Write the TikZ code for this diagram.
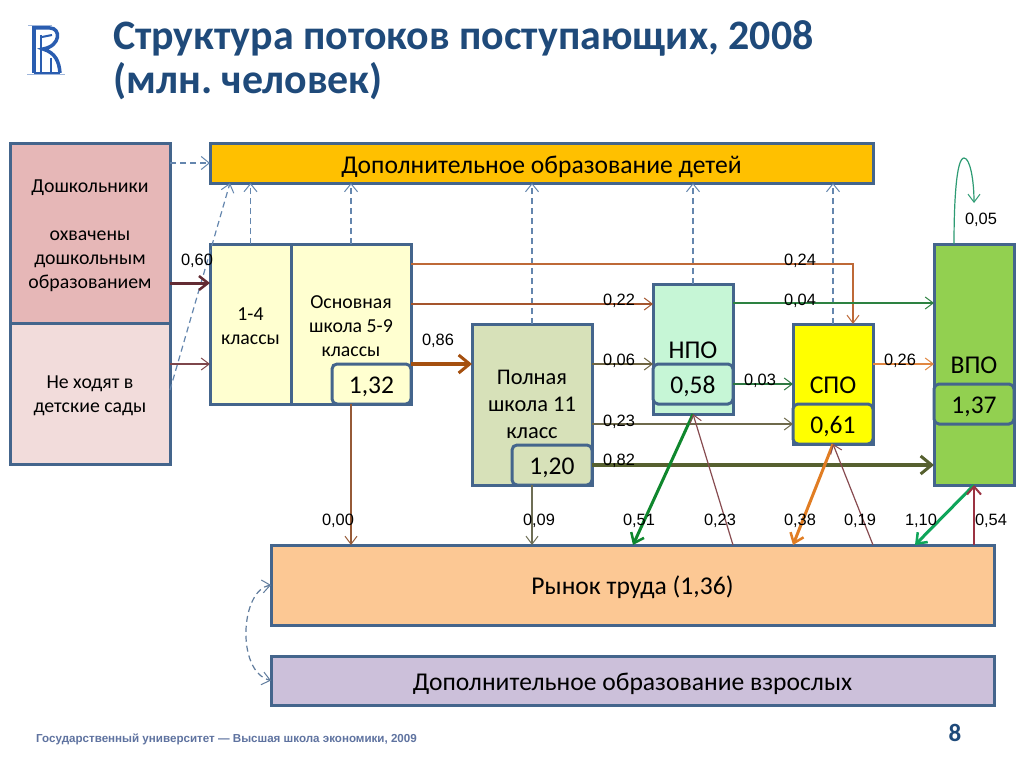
\documentclass[tikz,border=0pt]{standalone}
\usepackage{fontspec}
\setmainfont{Carlito}
\newfontfamily\numfont{Liberation Sans}
\usetikzlibrary{arrows.meta,calc}
\definecolor{frame}{HTML}{44658C}
\definecolor{dashblue}{HTML}{6486AE}
\definecolor{titleblue}{HTML}{1F4A7A}
\definecolor{logoblue}{HTML}{2A5DB0}
\frenchspacing
\newcommand\stru[1]{\rule{0pt}{#1pt}}
\tikzset{
 box/.style={draw=frame,line width=3pt,outer sep=0pt,anchor=north west,inner sep=0pt,align=center,text=black},
 val/.style={draw=frame,line width=3pt,outer sep=0pt,rounded corners=5pt,anchor=north west,inner sep=0pt,align=center,font=\fontsize{25.5}{28}\selectfont},
 body/.style={font=\fontsize{19.8}{24}\selectfont},
 big/.style={font=\fontsize{25.6}{28}\selectfont},
 num/.style={font=\numfont\fontsize{16.4}{18}\selectfont,text=black,inner sep=0pt},
 flow/.style={-{Straight Barb[length=8pt,width=12pt,line width=1pt]},line width=1.2pt},
 bigflow/.style={-{Straight Barb[length=11pt,width=18pt,line width=3pt]},line width=4pt},
 midflow/.style={-{Straight Barb[length=9pt,width=14pt,line width=2.5pt]},line width=3pt},
 dashflow/.style={-{Straight Barb[length=8pt,width=13pt,line width=1pt]},draw=dashblue,line width=1.2pt,dash pattern=on 6pt off 4pt},
 dashboth/.style={{Straight Barb[length=8pt,width=13pt,line width=1pt]}-{Straight Barb[length=8pt,width=13pt,line width=1pt]},draw=frame!85,line width=1.2pt,dash pattern=on 6pt off 4pt},
}
\begin{document}
\begin{tikzpicture}[x=1pt,y=-1pt]
\useasboundingbox (0,0) rectangle (1024,768);
\fill[white] (0,0) rectangle (1024,768);
% logo
\begin{scope}[draw=logoblue,line cap=butt]
\draw[draw=logoblue!45,line width=1.6pt] (28,25.5) -- (52,25.5) (27,74.5) -- (65,74.5);
\draw[line width=4pt] (34,26) -- (34,73);
\draw[line width=2pt] (41,35) -- (41,73);
\draw[line width=3.5pt] (33,28) -- (50,28) .. controls (61,28) and (61,46) .. (43,49) .. controls (56,53) and (59,62) .. (60,73);
\draw[line width=2pt] (42,37) -- (52,35);
\draw[line width=2pt] (51,58) -- (51,73);
\draw[line width=2pt] (34,72.5) -- (60,72.5);
\end{scope}
% title
\node[anchor=west,inner sep=0pt,text=titleblue,font=\fontsize{41.9}{44}\selectfont\bfseries] (title1) at (113,38.5) {Структура потоков поступающих, 2008};
\node[anchor=west,inner sep=0pt,text=titleblue,font=\fontsize{41.9}{44}\selectfont\bfseries] (title2) at (113,81) {(млн. человек)};
% boxes
\node[box,body,minimum width=160pt,minimum height=180pt,fill={rgb,255:red,230;green,183;blue,183}] (pre) at (10,143) {\stru{18}Дошкольники\\ \\охвачены\\дошкольным\\образованием};
\node[box,body,minimum width=160pt,minimum height=141pt,fill={rgb,255:red,242;green,220;blue,219}] (non) at (10,323) {\stru{18}Не ходят в\\детские сады};
\node[box,big,minimum width=663pt,minimum height=40pt,fill={rgb,255:red,255;green,192;blue,0}] (extra) at (210,143) {\stru{25}Дополнительное образование детей};
\node[box,body,minimum width=81pt,minimum height=160pt,fill={rgb,255:red,255;green,255;blue,208}] (prim) at (210,244) {\stru{18}1-4\\классы};
\node[box,body,minimum width=120pt,minimum height=160pt,fill={rgb,255:red,255;green,255;blue,208}] (school) at (291,244) {\stru{17}Основная\\школа 5-9\\классы};
\node[val,minimum width=79pt,minimum height=40pt,fill={rgb,255:red,255;green,255;blue,208}] (v132) at (332,364) {\stru{23}1,32};
\node[box,minimum width=120pt,minimum height=161pt,fill={rgb,255:red,215;green,225;blue,185},font=\fontsize{22.4}{27}\selectfont] (full) at (472,324) {\stru{15}Полная\\школа 11\\класс};
\node[val,minimum width=80pt,minimum height=40pt,fill={rgb,255:red,215;green,225;blue,185}] (v120) at (512,445) {\stru{23}1,20};
\node[box,minimum width=80pt,minimum height=130pt,fill={rgb,255:red,198;green,246;blue,214}] (npo) at (653,284) {};
\node[anchor=center,inner sep=0pt,big] (npot) at (693,350) {НПО};
\node[val,minimum width=80pt,minimum height=40pt,fill={rgb,255:red,198;green,246;blue,214}] (v058) at (653,364) {\stru{23}0,58};
\node[box,minimum width=80pt,minimum height=120pt,fill={rgb,255:red,255;green,255;blue,0}] (spo) at (793,324) {};
\node[anchor=center,inner sep=0pt,big] (spot) at (833,385.5) {СПО};
\node[val,minimum width=80pt,minimum height=40pt,fill={rgb,255:red,255;green,255;blue,0}] (v061) at (793,404) {\stru{23}0,61};
\node[box,minimum width=80pt,minimum height=241pt,fill={rgb,255:red,146;green,208;blue,80}] (vpo) at (934,244) {};
\node[anchor=center,inner sep=0pt,big] (vpot) at (974,365) {ВПО};
\node[val,minimum width=80pt,minimum height=40pt,fill={rgb,255:red,146;green,208;blue,80}] (v137) at (934,384) {\stru{22}1,37};
\node[box,big,minimum width=723pt,minimum height=80pt,fill={rgb,255:red,252;green,200;blue,148}] (market) at (271,545) {\stru{24}Рынок труда (1,36)};
\node[box,big,minimum width=723pt,minimum height=49pt,fill={rgb,255:red,204;green,192;blue,218}] (adult) at (271,656) {\stru{24}Дополнительное образование взрослых};
% dashed to extra
\draw[dashflow] (pre.east |- 0,163) -- (extra.west |- 0,163);
\draw[dashflow] (non.east |- 0,390) -- (extra.south west -| 230,0);
\draw[dashflow] (prim.north) -- (extra.south -| prim.north);
\draw[dashflow] (school.north) -- (extra.south -| school.north);
\draw[dashflow] (full.north) -- (extra.south -| full.north);
\draw[dashflow] (npo.north) -- (extra.south -| npo.north);
\draw[dashflow] (spo.north) -- (extra.south -| spo.north);
\draw[dashboth] (market.west) .. controls (240,590) and (236,672) .. (adult.west);
% flows
\draw[midflow,draw={rgb,255:red,99;green,43;blue,51}] (pre.east |- 0,283) -- (prim.west |- 0,283);
\draw[flow,draw={rgb,255:red,125;green,70;blue,75}] (non.east |- 0,364) -- (prim.west |- 0,364);
\draw[flow,draw={rgb,255:red,190;green,105;blue,55}] (school.east |- 0,264) -| (spo.north -| 853,0);
\draw[flow,draw={rgb,255:red,165;green,85;blue,45}] (school.east |- 0,304) -- (npo.west |- 0,304);
\draw[bigflow,draw={rgb,255:red,165;green,80;blue,15}] (school.east |- 0,364) -- (full.west |- 0,364);
\draw[flow,draw={rgb,255:red,110;green,100;blue,65}] (full.east |- 0,364) -- (npo.west |- 0,364);
\draw[flow,draw={rgb,255:red,110;green,105;blue,75}] (full.east |- 0,424) -- (spo.west |- 0,424);
\draw[bigflow,draw={rgb,255:red,86;green,96;blue,47}] (full.east |- 0,465) -- (vpo.west |- 0,465);
\draw[flow,draw={rgb,255:red,45;green,130;blue,65}] (npo.east |- 0,303) -- (vpo.west |- 0,303);
\draw[flow,draw={rgb,255:red,45;green,120;blue,65}] (npo.east |- 0,384) -- (spo.west |- 0,384);
\draw[flow,draw={rgb,255:red,225;green,135;blue,65}] (spo.east |- 0,364) -- (vpo.west |- 0,364);
\draw[flow,draw={rgb,255:red,150;green,90;blue,55}] (school.south) -- (market.north -| school.south);
\draw[flow,draw={rgb,255:red,110;green,110;blue,85}] (full.south) -- (market.north -| full.south);
\draw[midflow,draw={rgb,255:red,15;green,135;blue,45}] (npo.south) -- (market.north -| 633,0);
\draw[flow,draw={rgb,255:red,135;green,75;blue,80}] (market.north -| 733,0) -- (npo.south);
\draw[midflow,draw={rgb,255:red,225;green,125;blue,35}] (spo.south) -- (market.north -| 793,0);
\draw[flow,draw={rgb,255:red,135;green,75;blue,80}] (market.north -| 873,0) -- (spo.south);
\draw[midflow,draw={rgb,255:red,15;green,165;blue,90}] (vpo.south) -- (market.north -| 915,0);
\draw[-{Straight Barb[length=8pt,width=14pt,line width=2pt]},line width=2.6pt,draw={rgb,255:red,155;green,50;blue,65}] (market.north -| vpo.south) -- (vpo.south);
\draw[flow,draw={rgb,255:red,45;green,155;blue,115}] (vpo.north -| 954,0) .. controls (954,205) and (956,158) .. (964,158) .. controls (970,158) and (974,180) .. (974,203);
% labels
\node[num] (n060) at (197,261) {0,60};
\node[num] (n086) at (438,341) {0,86};
\node[num] (n022) at (619,301) {0,22};
\node[num] (n006) at (619,361) {0,06};
\node[num] (n023) at (619,422) {0,23};
\node[num] (n082) at (619,461) {0,82};
\node[num] (n024) at (800,261) {0,24};
\node[num] (n004) at (800,301) {0,04};
\node[num] (n003) at (760,381) {0,03};
\node[num] (n026) at (900,361) {0,26};
\node[num] (n005) at (981,220) {0,05};
\node[num] (n000) at (338,521) {0,00};
\node[num] (n009) at (539,521) {0,09};
\node[num] (n051) at (639,521) {0,51};
\node[num] (n0232) at (720,521) {0,23};
\node[num] (n038) at (800,521) {0,38};
\node[num] (n019) at (860,521) {0,19};
\node[num] (n110) at (921,521) {1,10};
\node[num] (n054) at (991,521) {0,54};
% footer
\node[anchor=west,inner sep=0pt,text={rgb,255:red,95;green,115;blue,160},font=\numfont\fontsize{11.6}{14}\selectfont\bfseries] (foot) at (36,739) {Государственный университет — Высшая школа экономики, 2009};
\node[inner sep=0pt,text=titleblue,font=\fontsize{25}{26}\selectfont\bfseries] (page) at (955,733) {8};
\end{tikzpicture}
\end{document}
